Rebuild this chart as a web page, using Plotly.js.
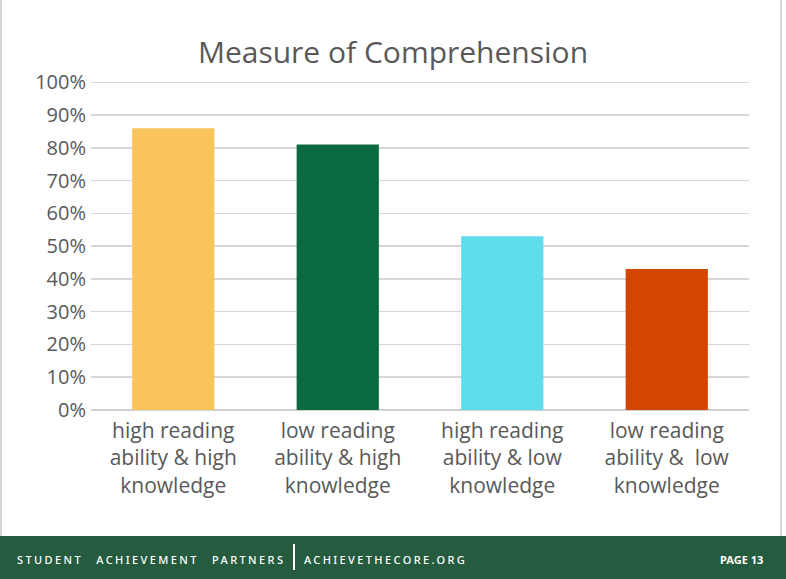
<!DOCTYPE html>
<html>
<head>
<meta charset="utf-8">
<script src="https://cdn.plot.ly/plotly-3.0.1.min.js"></script>
<style>
  html, body { margin: 0; padding: 0; background: #fff; }
  #page { position: relative; width: 786px; height: 579px; overflow: hidden; }
  #plot { position: absolute; left: 0; top: 0; width: 786px; height: 536px; }
  #edgeL { position: absolute; left: 0; top: 0; width: 2px; height: 536px; background: #d6d6d6; }
  #edgeR { position: absolute; left: 780px; top: 0; width: 2px; height: 536px; background: #d6d6d6; }
  #footer { position: absolute; left: 0; top: 536px; width: 786px; height: 43px; background: #255b3f;
            color: #fff; font-family: "Noto Sans", sans-serif; font-size: 11px; font-weight: 500; }
  #footer .left { position: absolute; left: 17px; top: 16px; letter-spacing: 2.4px; white-space: nowrap; }
  #footer .words { word-spacing: 8px; }
  #footer .sep { display: inline-block; width: 1.5px; height: 26px; background: #fff; vertical-align: middle;
                 margin: -8px 9px 0 8px; }
  #footer .page { position: absolute; left: 720px; top: 16px; font-weight: 700; font-size: 11px;
                  letter-spacing: 0px; white-space: nowrap; }
</style>
</head>
<body>
<div id="page">
  <div id="plot"></div>
  <div id="edgeL"></div>
  <div id="edgeR"></div>
  <div id="footer">
    <div class="left"><span class="words">STUDENT ACHIEVEMENT PARTNERS</span><span class="sep"></span>ACHIEVETHECORE.ORG</div>
    <div class="page">PAGE 13</div>
  </div>
</div>
<script>
// chart values
var groups = [
  "high reading<br>ability & high<br>knowledge",
  "low reading<br>ability & high<br>knowledge",
  "high reading<br>ability & low<br>knowledge",
  "low reading<br>ability &  low<br>knowledge"
];
var comprehension = [0.86, 0.81, 0.53, 0.43];
var barColors = ["#f9c45b", "#0c6a40", "#5fdded", "#d24600"];
var yTicks = [0, 0.1, 0.2, 0.3, 0.4, 0.5, 0.6, 0.7, 0.8, 0.9, 1.0];

var trace = {
  type: "bar",
  x: groups,
  y: comprehension,
  marker: {color: barColors, line: {width: 0}},
  hoverinfo: "none"
};

var layout = {
  width: 786,
  height: 536,
  margin: {l: 91, r: 37, t: 79, b: 126},
  paper_bgcolor: "#ffffff",
  plot_bgcolor: "#ffffff",
  showlegend: false,
  bargap: 0.5,
  font: {family: "Open Sans, sans-serif", color: "#595959"},
  title: {
    text: "Measure of Comprehension",
    font: {size: 30, color: "#595959", family: "Open Sans, sans-serif"},
    x: 0.5, xanchor: "center",
    y: 1 - 52 / 536, yanchor: "middle"
  },
  xaxis: {
    type: "category",
    showgrid: false,
    showline: false,
    zeroline: false,
    ticks: "",
    ticklabelstandoff: 6,
    tickfont: {size: 21, color: "#595959"},
    fixedrange: true
  },
  yaxis: {
    range: [0, 1.01],
    tickvals: yTicks,
    tickformat: ".0%",
    showgrid: true,
    gridcolor: "#d6d6d6",
    gridwidth: 1.5,
    zeroline: true,
    zerolinecolor: "#d0d0d0",
    zerolinewidth: 1.5,
    showline: false,
    ticks: "",
    ticklabelstandoff: 4,
    tickfont: {size: 20, color: "#595959"},
    fixedrange: true
  }
};

Plotly.newPlot("plot", [trace], layout, {displayModeBar: false, staticPlot: true});
</script>
</body>
</html>
